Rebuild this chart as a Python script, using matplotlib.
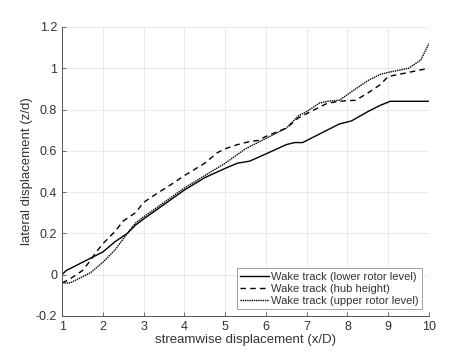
import numpy as np
import matplotlib
matplotlib.use('Agg')
import matplotlib.pyplot as plt

plt.rcParams['font.family'] = ['Liberation Sans', 'DejaVu Sans']

# wake track (lower rotor level)
x_lower = [1.0, 1.1, 1.3, 1.5, 1.7, 2.0, 2.3, 2.6, 2.8, 3.0, 3.5, 4.0, 4.5, 5.0, 5.3, 5.6,
           6.0, 6.5, 6.7, 6.9, 7.2, 7.5, 7.8, 8.1, 8.5, 8.8, 9.05, 10.0]
y_lower = [0.0, 0.02, 0.04, 0.06, 0.08, 0.11, 0.16, 0.2, 0.24, 0.27, 0.34, 0.41, 0.47, 0.515, 0.54, 0.55,
           0.585, 0.63, 0.64, 0.64, 0.67, 0.70, 0.73, 0.745, 0.79, 0.82, 0.84, 0.84]

# wake track (hub height)
x_hub = [1.0, 1.2, 1.5, 1.7, 1.8, 2.0, 2.3, 2.5, 2.8, 3.0, 3.3, 3.7, 4.0, 4.5, 4.8, 5.0, 5.3, 5.6,
         5.8, 6.0, 6.5, 6.8, 7.0, 7.3, 7.5, 7.8, 8.2, 8.5, 8.8, 9.0, 9.5, 10.0]
y_hub = [-0.04, -0.02, 0.02, 0.07, 0.1, 0.15, 0.21, 0.26, 0.3, 0.35, 0.39, 0.44, 0.48, 0.54, 0.59, 0.61,
         0.63, 0.645, 0.65, 0.67, 0.71, 0.76, 0.78, 0.81, 0.83, 0.84, 0.845, 0.88, 0.92, 0.96, 0.98, 1.0]

# wake track (upper rotor level)
x_upper = [1.0, 1.2, 1.4, 1.7, 2.0, 2.3, 2.6, 2.8, 3.0, 3.5, 4.0, 4.5, 5.0, 5.5, 6.0, 6.5, 6.8, 7.0,
           7.3, 7.5, 7.8, 8.2, 8.5, 8.8, 9.0, 9.5, 9.8, 10.0]
y_upper = [-0.04, -0.04, -0.02, 0.01, 0.06, 0.12, 0.2, 0.25, 0.28, 0.35, 0.42, 0.48, 0.54, 0.61, 0.66,
           0.71, 0.77, 0.79, 0.83, 0.84, 0.845, 0.9, 0.94, 0.97, 0.98, 1.0, 1.04, 1.12]

fig = plt.figure(figsize=(4.74, 3.55), dpi=100)
ax = fig.add_axes([0.131, 0.110, 0.774, 0.814])

ax.plot(x_lower, y_lower, 'k-', lw=1.0, label='Wake track (lower rotor level)')
ax.plot(x_hub, y_hub, 'k--', lw=1.0, dashes=(4, 3), label='Wake track (hub height)')
ax.plot(x_upper, y_upper, 'k:', lw=1.0, dashes=(1, 0.6), label='Wake track (upper rotor level)')

ax.set_xlim(1, 10)
ax.set_ylim(-0.2, 1.2)
ax.set_xticks(range(1, 11))
ax.set_yticks([-0.2, 0, 0.2, 0.4, 0.6, 0.8, 1, 1.2])
ax.set_yticklabels(['-0.2', '0', '0.2', '0.4', '0.6', '0.8', '1', '1.2'])
ax.grid(True, color='#e6e6e6', lw=0.6)
ax.set_axisbelow(True)
for s in ['top', 'right']:
    ax.spines[s].set_visible(False)
for s in ['left', 'bottom']:
    ax.spines[s].set_color('#555555')
    ax.spines[s].set_linewidth(0.7)
ax.tick_params(direction='in', length=3, width=0.6, color='#555555', labelsize=9, labelcolor='#333333')

ax.set_xlabel('streamwise displacement (x/D)', fontsize=9.5, color='#333333', labelpad=1)
ax.set_ylabel('lateral displacement (z/d)', fontsize=9.5, color='#333333', labelpad=2)

leg = ax.legend(loc='lower right', fontsize=8, frameon=True, fancybox=False, handlelength=2.6,
                borderaxespad=0.6, borderpad=0.3, labelspacing=0.2, handletextpad=0.2)
leg.get_frame().set_edgecolor('#888888')
leg.get_frame().set_linewidth(0.7)
for t in leg.get_texts():
    t.set_color('#333333')

fig.savefig('out.png', dpi=100)
